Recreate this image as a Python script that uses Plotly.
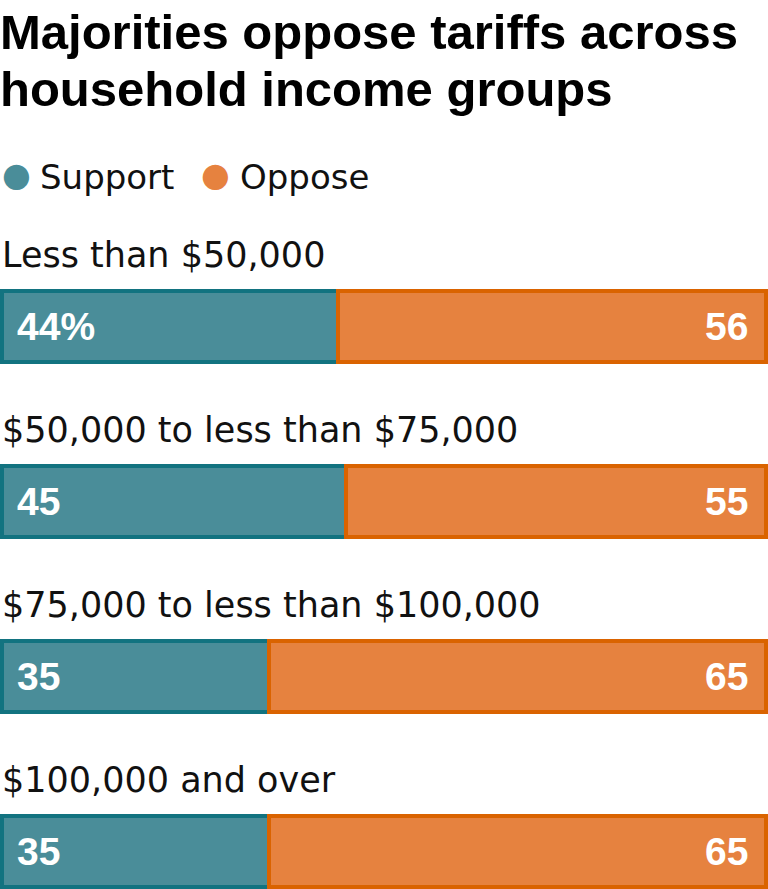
import plotly.graph_objects as go

categories = ["Less than $50,000", "$50,000 to less than $75,000",
              "$75,000 to less than $100,000", "$100,000 and over"]
support = [44, 45, 35, 35]
oppose = [56, 55, 65, 65]
support_labels = ["44%", "45", "35", "35"]
oppose_labels = ["56", "55", "65", "65"]
series_names = ["Support", "Oppose"]
title_lines = ["Majorities oppose tariffs across", "household income groups"]

W, H = 768, 889
TEAL, TEAL_LINE = "#4A8D99", "#127380"
ORANGE, ORANGE_LINE = "#E6823F", "#DA6300"
BODY = "DejaVu Sans"
BOLD = "Liberation Sans"

idx = list(range(len(categories)))
c0, step = 326, 175.0
yr = [(H - c0) / step, -c0 / step]

fig = go.Figure()
fig.add_trace(go.Bar(y=idx, x=support, orientation="h", name=series_names[0],
                     marker=dict(color=TEAL, line=dict(color=TEAL_LINE, width=4.5)),
                     width=71 / step, showlegend=False, hoverinfo="skip"))
fig.add_trace(go.Bar(y=idx, x=oppose, orientation="h", name=series_names[1],
                     marker=dict(color=ORANGE, line=dict(color=ORANGE_LINE, width=4.5)),
                     width=71 / step, showlegend=False, hoverinfo="skip"))

ann = []
for i, cat in enumerate(categories):
    ann.append(dict(x=0, y=i, xref="x", yref="y", text=cat, showarrow=False,
                    xanchor="left", yanchor="middle", yshift=71, xshift=-2,
                    font=dict(family=BODY, size=35, color="#111")))
    ann.append(dict(x=0, y=i, xref="x", yref="y", text=support_labels[i], showarrow=False,
                    xanchor="left", yanchor="middle", xshift=13,
                    font=dict(family=BOLD, size=39, color="white", weight="bold")))
    ann.append(dict(x=support[i] + oppose[i], y=i, xref="x", yref="y", text=oppose_labels[i],
                    showarrow=False, xanchor="right", yanchor="middle", xshift=-16,
                    font=dict(family=BOLD, size=39, color="white", weight="bold")))

# title
for line, cy in zip(title_lines, [32, 89]):
    ann.append(dict(x=0, y=1 - cy / H, xref="paper", yref="paper", text=line,
                    showarrow=False, xanchor="left", yanchor="middle", xshift=-2,
                    font=dict(family=BOLD, size=49, color="black", weight="bold")))

# legend
for name, col, cx, tx in [(series_names[0], TEAL, 16, 38), (series_names[1], ORANGE, 215, 238)]:
    ann.append(dict(x=cx / W, y=1 - 175 / H, xref="paper", yref="paper", text="●",
                    showarrow=False, xanchor="center", yanchor="middle",
                    font=dict(family=BODY, size=33, color=col)))
    ann.append(dict(x=tx / W, y=1 - 177 / H, xref="paper", yref="paper", text=name,
                    showarrow=False, xanchor="left", yanchor="middle",
                    font=dict(family=BODY, size=34, color="#111")))

fig.update_layout(
    width=W, height=H, barmode="stack",
    margin=dict(l=0, r=0, t=0, b=0),
    paper_bgcolor="white", plot_bgcolor="white",
    xaxis=dict(range=[-0.3, 100.3], visible=False, fixedrange=True),
    yaxis=dict(range=yr, visible=False, fixedrange=True),
    bargap=0, annotations=ann, showlegend=False,
)
fig.write_html("out.html", config={"displayModeBar": False},
               post_script="document.body.style.margin='0';document.body.style.overflow='hidden';")
